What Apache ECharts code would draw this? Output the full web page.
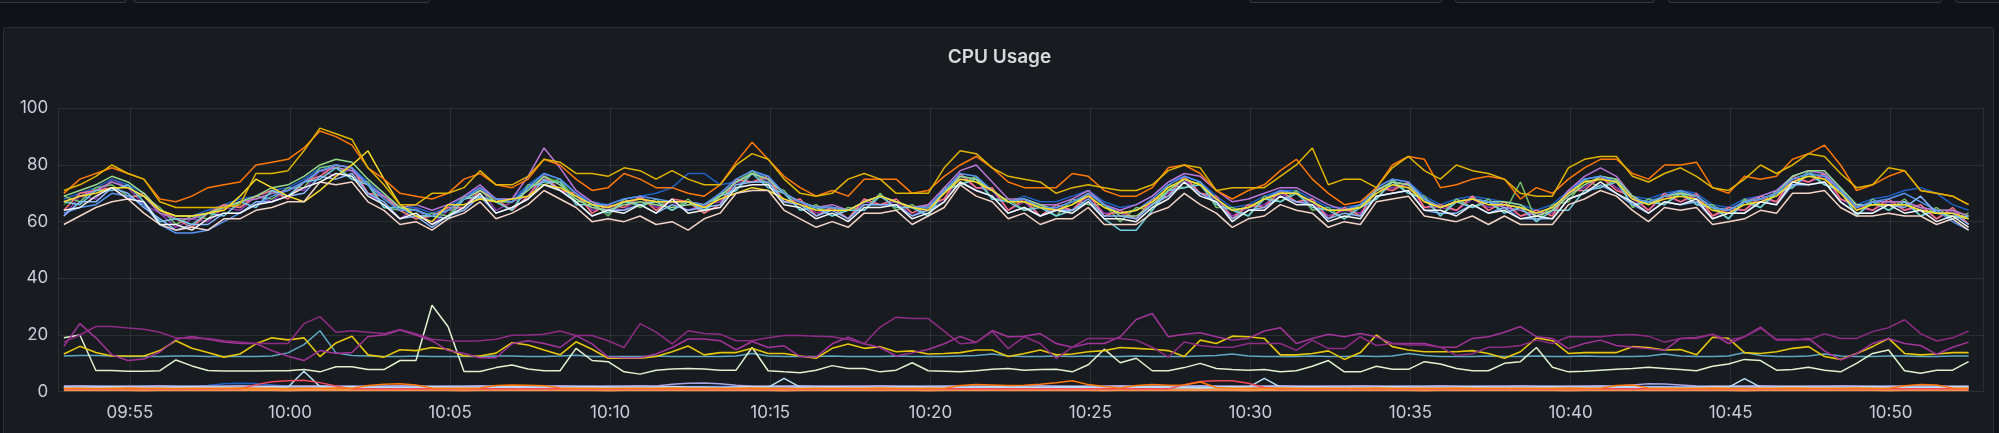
<!DOCTYPE html>
<html><head><meta charset="utf-8">
<script src="https://cdn.jsdelivr.net/npm/echarts@6/dist/echarts.min.js"></script>
<style>
html,body{margin:0;padding:0;background:#111217;overflow:hidden;}
#wrap{position:relative;width:1999px;height:433px;}
.btn{position:absolute;top:-10px;height:11px;border:1px solid #34373d;border-radius:3px;background:#15171b;}
#panel{position:absolute;left:3px;top:27px;width:1989px;height:430px;background:#181b1f;border:1px solid rgba(204,204,220,0.10);border-radius:3px;}
#c{position:absolute;left:0;top:0;width:1999px;height:433px;}
</style>
</head><body>
<div id="wrap">
<div class="btn" style="left:-2px;width:127px"></div>
<div class="btn" style="left:133px;width:295px"></div>
<div class="btn" style="left:1249px;width:191px"></div>
<div class="btn" style="left:1455px;width:198px"></div>
<div class="btn" style="left:1668px;width:272px"></div>
<div class="btn" style="left:1955px;width:60px"></div>
<div id="panel"></div>
<div id="c"></div>
</div>
<script>
// ---- time grid (30 s samples) ----
const START = new Date(2024, 0, 15, 9, 52, 56).getTime();
const STEP_MS = 30000;
const X_MIN = new Date(2024, 0, 15, 9, 52, 45, 600).getTime();
const X_MAX = new Date(2024, 0, 15, 10, 52, 53).getTime();
const Y_TICKS = [0, 20, 40, 60, 80, 100];

// ---- upper band (about 60-90 %) ----
const o1 = [70,75,77,79,77,75,68,67,69,72, 73,74,80,81,82,86,92,90,87,79, 75,70,69,68,70,75,77,73,72,75, 82,80,75,71,72,77,75,72,72,70, 69,73,81,88,82,76,72,69,71,69, 75,75,75,70,71,76,80,83,79,74, 72,72,72,77,76,71,69,69,72,79, 80,77,71,68,71,73,78,82,75,70, 66,67,72,80,83,82,72,73,75,76, 75,68,72,70,75,79,82,82,77,75, 80,80,81,72,70,76,75,76,82,84, 87,80,71,73,76,78,71,70,69,66];
const o2 = [71,73,76,80,77,75,67,65,65,65, 65,66,77,77,78,85,93,91,89,79, 73,66,66,70,70,72,78,73,73,76, 82,81,77,77,76,79,78,75,78,75, 73,73,80,84,82,75,70,69,70,75, 77,75,70,70,70,79,85,84,79,76, 75,74,70,72,73,72,71,71,73,78, 80,79,71,72,72,72,76,80,86,73, 75,75,72,79,83,78,75,80,78,77, 75,70,69,69,79,82,83,83,76,74, 77,79,76,72,71,75,80,77,80,84, 83,77,72,73,79,78,71,70,69,66];
const s1 = [63,65,66,70,69,66,59,56,56,57, 60,63,66,69,71,74,78,80,79,73, 68,64,64,62,64,68,72,68,67,72, 77,75,70,66,66,68,69,68,67,67, 66,70,75,78,76,70,67,65,65,64, 67,69,67,65,65,71,77,76,71,67, 68,65,65,67,70,66,63,64,68,73, 76,74,68,64,65,68,71,70,67,64, 64,66,72,75,74,68,65,67,68,67, 66,65,63,65,70,75,76,74,68,67, 69,71,69,65,64,67,68,70,75,77, 76,71,65,67,68,70,67,64,60,57];
const s2 = [69,67,72,73,69,69,65,59,62,61, 66,65,69,68,72,72,79,80,75,74, 65,64,61,63,62,69,68,67,64,73, 73,75,67,67,62,68,65,68,64,68, 63,70,71,78,73,71,64,66,62,65, 64,70,64,66,62,72,73,76,68,68, 64,66,62,68,66,66,60,65,64,73, 72,74,65,65,62,69,67,71,64,65, 61,66,68,75,70,69,62,68,65,68, 63,74,60,66,67,75,72,75,65,68, 66,71,66,66,61,68,65,71,72,78, 73,72,62,68,64,68,62,65,61,63];
const s3 = [67,69,71,74,72,69,63,61,61,63, 65,67,68,70,71,74,78,79,78,73, 69,65,66,64,66,69,73,68,68,76, 86,79,71,67,65,67,68,67,67,67, 66,69,74,77,75,70,67,65,66,64, 67,69,67,65,66,72,78,80,74,68, 68,66,66,68,71,66,64,66,69,74, 77,76,71,67,68,70,72,72,69,66, 64,65,71,74,73,68,65,67,68,67, 65,64,62,64,71,76,79,76,69,66, 69,70,69,65,64,67,69,71,76,78, 77,71,65,67,67,67,65,64,64,62];
const s4 = [62,67,67,72,70,65,61,57,59,59, 63,63,67,67,69,70,76,75,77,70, 67,61,62,58,62,64,69,63,65,68, 75,71,67,62,64,64,66,63,66,64, 65,66,73,74,74,67,66,62,64,61, 66,66,66,62,64,67,74,71,69,63, 65,62,64,64,68,62,62,61,66,69, 74,70,67,61,64,65,69,67,66,61, 63,62,69,70,71,64,63,63,66,63, 65,61,61,61,68,70,73,70,66,63, 67,66,67,61,63,63,67,66,73,73, 74,67,63,63,66,65,69,63,63,59];
const s5 = [64,70,71,72,68,70,64,61,58,63, 66,65,69,71,68,74,76,80,79,70, 69,64,61,62,65,65,71,68,64,69, 76,71,70,63,66,65,69,64,68,67, 63,66,75,74,76,67,68,62,65,61, 68,66,68,63,66,68,77,72,72,64, 68,62,66,64,70,62,64,61,68,69, 76,70,69,61,66,65,71,67,68,61, 65,62,72,71,74,65,66,64,69,64, 67,62,64,62,71,71,76,71,69,64, 70,67,70,62,65,64,69,67,76,74, 77,68,66,64,68,64,66,61,65,59];
const s6 = [64,65,69,72,68,67,59,59,57,61, 63,63,66,67,69,72,74,77,76,69, 66,61,63,59,62,65,70,63,65,68, 73,71,67,62,64,63,66,63,68,63, 64,65,72,73,73,66,65,61,63,60, 65,65,66,61,63,67,74,71,69,63, 65,62,64,63,67,61,61,60,65,68, 74,69,67,60,64,64,69,66,66,60, 62,61,69,70,71,64,64,62,66,63, 64,61,62,61,68,70,74,70,67,63, 67,66,68,61,63,63,67,66,74,73, 74,67,63,63,66,63,64,60,62,58];
const s7 = [67,66,71,71,73,67,60,61,59,63, 62,67,65,71,69,74,75,79,75,73, 65,65,62,62,61,68,69,67,64,72, 74,74,66,66,63,67,66,67,64,67, 64,69,71,77,72,70,64,65,62,64, 64,69,65,65,62,71,73,75,68,67, 64,65,62,64,67,61,57,57,64,71, 72,73,66,64,62,68,67,70,65,64, 61,65,68,74,70,68,62,67,65,67, 63,65,60,64,64,71,72,74,66,67, 66,70,66,65,61,67,65,70,72,77, 73,71,62,67,64,67,62,64,61,62];
const s8 = [67,69,70,72,72,69,64,62,62,63, 64,69,75,72,69,67,71,76,80,85, 75,66,62,60,66,66,68,67,68,69, 73,72,69,66,65,67,68,67,67,67, 65,68,70,72,71,68,66,64,64,64, 67,69,67,65,64,70,75,74,71,67, 67,65,64,66,69,65,63,64,67,72, 75,73,68,64,65,68,70,70,67,64, 64,65,70,73,72,67,65,67,68,66, 66,65,63,65,70,74,75,74,68,66, 68,69,68,64,63,66,67,69,74,76, 75,70,64,66,66,66,64,63,63,61];
const s9 = [62,69,68,75,72,66,63,58,61,60, 65,64,69,67,72,71,78,76,79,70, 66,61,65,59,64,65,72,64,67,69, 77,71,69,64,65,64,69,65,67,64, 66,67,74,74,75,67,67,63,65,61, 67,66,67,62,65,68,76,72,71,64, 67,62,65,64,69,63,63,61,67,70, 75,70,68,62,65,66,70,67,67,62, 64,63,71,72,73,65,65,64,68,65, 66,62,63,63,70,72,76,72,68,64, 69,67,69,62,64,64,68,67,75,74, 76,68,65,64,67,64,65,61,64,59];
const s10 = [66,69,71,74,72,69,63,61,61,63, 65,67,68,70,71,74,78,79,78,73, 68,64,64,62,64,68,71,67,67,72, 76,74,69,66,65,67,68,67,67,67, 66,69,74,78,75,70,67,65,65,64, 67,69,67,65,65,71,76,75,71,67, 67,65,65,67,69,65,63,64,67,72, 75,73,68,64,65,68,70,70,67,64, 64,65,71,74,73,68,65,67,68,67, 66,65,63,65,70,74,75,74,68,67, 69,70,69,65,64,67,68,70,75,77, 76,71,65,67,67,67,65,64,64,62];
const s11 = [68,70,72,75,73,70,64,62,62,64, 66,68,69,71,72,75,79,80,79,74, 69,65,65,63,65,69,72,68,68,73, 77,75,70,67,66,68,69,70,72,77, 77,73,74,77,76,70,67,65,65,64, 67,69,67,65,65,71,76,75,71,67, 69,67,67,69,71,67,65,66,69,74, 76,74,69,65,66,69,71,71,68,65, 65,66,72,75,74,69,66,68,69,68, 67,66,64,66,71,75,76,75,69,68, 70,71,70,66,65,68,69,71,76,78, 77,72,66,68,69,71,72,70,66,64];
const s12 = [59,62,65,67,68,63,59,57,58,57, 61,61,64,65,67,67,74,73,74,67, 64,59,60,57,61,63,67,61,63,66, 71,68,65,60,61,60,62,59,60,57, 61,63,70,71,71,64,61,58,60,58, 63,63,64,59,62,65,73,69,67,61, 63,59,61,61,65,59,59,59,63,65, 70,66,63,58,61,62,66,64,63,58, 60,59,67,68,69,62,61,60,62,59, 62,59,59,59,66,68,71,69,64,60, 65,64,65,59,60,61,64,63,70,70, 71,65,62,62,63,62,62,59,61,57];
const s13 = [69,71,73,76,74,70,64,62,62,63, 65,67,69,72,73,76,80,82,81,75, 70,65,64,62,64,68,71,67,67,71, 76,73,68,65,64,66,67,66,65,66, 66,69,74,77,75,70,67,65,65,64, 67,69,67,65,65,70,76,75,71,67, 68,66,64,66,70,66,62,62,66,71, 75,73,68,64,65,68,70,70,67,64, 64,65,71,74,73,68,65,67,68,67, 67,66,62,64,69,73,76,75,69,66, 69,70,69,65,64,67,68,70,76,78, 78,72,66,66,66,66,64,63,62,61];

// ---- lower band (about 5-30 %) ----
const magA = [16,24,19,13,11,11.5,14,18.5,19.5,18.5, 17.5,17,17,14.5,12.5,11,14.5,13.5,13.8,19.5, 20,21.8,20,18,14.5,13.5,12,12,16.9,18, 17,15.6,19.8,16.9,12.2,12,12,13.3,15.6,18.6, 18.6,18,14.8,17.7,15.6,16.2,12.4,12.2,16.9,19.2, 16.9,15.6,12.6,13.7,14.9,16.9,19.5,17.4,21.6,19.4, 19.6,20.5,17,15.7,17,17,19.4,25.5,27.6,19.4, 20.3,20.8,19.4,18.2,18.8,21.4,22.6,17,18.8,20.3, 19.4,20.5,19.4,17,17,17,15.7,15.7,18.8,19.4, 21,23,19.4,18.8,15.2,17,18.2,16.3,15.7,15.2, 14.6,18.8,19.1,20.3,17,19.4,22.8,18.2,18.2,18.8, 14.4,11.2,13.4,17,18.8,17,16.3,13.2,15.7,17.5];
const magB = [17.5,20,23,23,22.5,22,21,19,18.8,18.8, 18,17.5,17,17,17,24,26.5,21,21.5,21, 20.5,22,20.5,18.5,18,17.8,18,18.5,19.9,20, 20.3,21.4,19.8,19.8,18,15.6,24,21,16.9,21.5, 20.5,20.3,18,18,19,19.8,19.8,19.6,19.4,18.4, 16.9,22.8,26.3,25.8,25.8,21.4,16.9,17.4,21.3,15.2, 19.4,17,11.7,15.7,18.8,18.8,18.8,18.2,15.7,12.2, 17.5,16.3,15.7,15.7,17,17,17,14.6,18.2,15.2, 15.2,19.4,16.3,17,16.5,16.5,15.7,12.8,13.4,15.7, 15.7,16.3,18.2,17,19.4,19.4,19.4,20,20.2,19.6, 17.5,18.8,18.8,20.3,18.2,19.4,22.4,18.5,18.5,18.2, 20.5,18.8,18.8,21.2,22.6,25.4,20.5,17.9,19,21.4];
const yel = [13.3,16,13.8,12.6,12.6,12.6,14.5,18,15.3,13.8, 12.2,13.3,16.9,19,18.3,19,12.4,17.2,19.6,13, 12.2,14.8,14.5,15.6,15,12.6,12.6,13.6,17.3,16.5, 14.7,13,17.6,15,11.8,11.8,11.8,12.4,14.1,16.1, 13,13.8,13.8,15.3,13.5,13.5,12.6,11.8,15.3,16.8, 15.3,15.9,14.1,14.4,13.3,13.5,13.8,14.7,14.7,12.4, 13.5,14.7,13,13.3,14.1,14.5,15.6,15.3,15,14.5, 12.4,18.2,17,19.6,19.4,18.8,13,13,13.5,14.4, 11.4,13.8,20,15.9,14.7,14.1,14.1,14.1,14.5,13.5, 11.8,14.1,19,18,13.5,13.8,13.8,13.8,15.9,15.6, 14.7,14.9,13,19.2,18.8,13.8,13.5,14.1,15.3,15.9, 12.4,11.4,13.5,15.9,18.8,13.5,13,13.3,13.8,13.8];
const teal = [12.6,12.8,12.8,12.6,12.4,12.4,12.4,12.6,12.6,12.4, 12.4,12.4,12.4,12.6,13.7,16.6,21.5,13.7,12.8,12.6, 12.4,12.4,12.6,12.4,12.4,12.4,12.4,12.6,12.6,12.4, 12.4,12.6,12.9,12.4,12.4,12.4,12.4,12.6,12.4,12.4, 12.4,12.4,12.6,13.5,12.6,12.4,12.4,12.4,12.6,12.4, 12.4,12.4,12.6,12.4,12.4,12.4,12.6,12.8,13.3,12.6, 12.4,12.4,12.6,12.4,12.6,12.4,12.4,12.6,12.4,12.4, 12.4,12.6,12.8,13.3,12.6,12.4,12.4,12.4,12.6,12.4, 12.4,12.6,12.4,12.6,13.5,12.8,12.4,12.4,12.4,12.6, 12.4,12.4,12.6,12.4,12.4,12.6,12.4,12.4,12.4,12.6, 13.3,12.6,12.4,12.4,12.6,13.8,12.8,12.4,12.4,12.6, 13.3,12.6,12.4,12.4,12.6,12.6,12.4,12.4,12.6,12.6];
const pale = [19,20,7.5,7.5,7.2,7.2,7.4,11.2,9.1,7.5, 7.3,7.3,7.3,7.4,7.4,7.8,7,8.8,8.8,7.8, 7.8,11,11,30.5,23,7.1,7.1,8.5,9.4,8, 7.4,7.4,15.3,11,10.6,7,6.2,7.6,8,8.2, 8,7.6,7.6,15.6,7.4,7,6.7,7.6,9.2,8.2, 8.2,7,7.6,10.2,7.4,7.2,7,7.4,7.9,8.2, 7.6,7.8,7.9,7,9.5,15,10.2,11.8,7.4,7.4, 8.5,10,8.2,7.8,7.6,7.8,7,7.4,9,11, 7,7,9,7.9,7.9,10.6,9.8,8.2,7.4,7.4, 10,10.6,15.6,8.6,7,7.2,7.6,7.9,8.2,8.6, 8.2,7.8,7.4,9,9.8,11.4,11,7.6,7.8,8.6, 7.6,7,10,13.5,14.7,7.4,6.5,7.6,7.6,10.6];

// ---- near-zero lines ----
const zOr1 = [0.7,0.7,0.8,0.7,0.7,0.6,0.7,0.7,0.8,0.7, 0.7,0.8,0.7,0.7,0.6,0.7,0.7,0.8,0.7,0.7, 0.7,0.7,0.8,0.7,0.7,0.6,0.7,0.7,0.8,0.7, 0.7,0.8,0.7,0.7,0.6,0.7,0.7,0.8,0.7,0.7, 0.7,0.7,0.8,0.7,0.7,0.6,0.7,0.7,0.8,0.7, 0.7,0.8,0.7,0.7,0.6,0.7,0.7,0.8,0.7,0.7, 0.7,0.7,0.8,0.7,0.7,0.6,0.7,0.7,0.8,0.7, 0.7,0.8,0.7,0.7,0.6,0.7,0.7,0.8,0.7,0.7, 0.7,0.7,0.8,0.7,0.7,0.6,0.7,0.7,0.8,0.7, 0.7,0.8,0.7,0.7,0.6,0.7,0.7,0.8,0.7,0.7, 0.7,0.7,0.8,0.7,0.7,0.6,0.7,0.7,0.8,0.7, 0.7,0.8,0.7,0.7,0.6,0.7,0.7,0.8,0.7,0.7];
const zOr2 = [1.2,1.2,1.1,1.2,1.3,1.2,1.2,1.1,1.2,1.2, 1.2,1.3,1.2,1.2,1.1,1.2,1.2,1.3,1.2,2.2, 2.6,2.8,2.4,1.3,1.2,1.2,1.3,2.2,2.4,2.3, 2.1,1.3,1.2,1.2,1.1,1.2,1.2,1.2,1.3,1.2, 1.2,1.2,1.2,1.3,1.2,1.2,1.1,1.2,1.2,1.2, 1.2,1.3,1.2,1.2,1.2,1.2,2.2,2.5,2.4,2.2, 2.3,2.6,3.2,3.9,2.5,1.8,1.3,2.2,2.5,2.3, 2.4,3.4,1.5,1.2,1.2,1.2,1.3,1.2,1.2,1.2, 1.2,1.2,1.3,1.2,1.2,1.2,1.2,1.3,1.2,1.2, 1.2,1.2,1.2,1.2,1.3,1.2,1.2,2.2,2.4,1.3, 1.2,1.2,1.2,1.3,1.2,1.2,1.2,1.2,1.3,1.2, 1.2,1.2,1.3,1.2,1.2,2.1,2.5,2.4,1.3,1.2];
const zRed = [1,1,1,1,1,1,1,1,1,1, 1,1,2.5,3.5,3.9,4,3.2,2,1,1, 1,1,1,1,1,1,1,1,1,1, 1,1,1,1,1,1,1,1,1,1, 1,1,1,1,1,1,1,1,1,1, 1,1,1,1,1,1,1,1,1,1, 1,1,1,1,1,1,1,1,1,1, 2.5,3.6,3.9,3.9,3,1.5,1,1,1,1, 1,1,1,1,1,1,1,1,1,1, 1,1,1,1,1,1,1,1,1,1, 1,1,1,1,1,1,1,1,1,1, 1,1,1,1,1,1,1,1,1,1];
const zLB = [1.7,1.6,1.7,1.8,1.7,1.7,1.6,1.7,1.8,1.7, 1.7,1.6,1.7,1.8,1.7,1.7,1.6,1.7,1.8,1.7, 1.7,1.6,1.7,1.8,1.7,1.7,1.6,1.7,1.8,1.7, 1.7,1.6,1.7,1.8,1.7,1.7,1.6,1.7,1.8,1.7, 1.7,1.6,1.7,1.8,1.7,1.7,1.6,1.7,1.8,1.7, 1.7,1.6,1.7,1.8,1.7,1.7,1.6,1.7,1.8,1.7, 1.7,1.6,1.7,1.8,1.7,1.7,1.6,1.7,1.8,1.7, 1.7,1.6,1.7,1.8,1.7,1.7,1.6,1.7,1.8,1.7, 1.7,1.6,1.7,1.8,1.7,1.7,1.6,1.7,1.8,1.7, 1.7,1.6,1.7,1.8,1.7,1.7,1.6,1.7,1.8,1.7, 1.7,1.6,1.7,1.8,1.7,1.7,1.6,1.7,1.8,1.7, 1.7,1.6,1.7,1.8,1.7,1.7,1.6,1.7,1.8,1.7];
const zPur = [2,2.1,2,1.9,2,2,2.1,2,1.9,2, 2,2.1,2,1.9,2,2,2.1,2,1.9,2, 2,2.1,2,1.9,2,2,2.1,2,1.9,2, 2,2.1,2,1.9,2,2,2.1,2,2.6,3, 3.1,2.8,2.3,1.9,2,2,2.1,2,1.9,2, 2,2.1,2,1.9,2,2,2.1,2,1.9,2, 2,2.1,2,1.9,2,2,2.1,2,1.9,2, 2,2.1,2,1.9,2,2,2.1,2,1.9,2, 2,2.1,2,1.9,2,2,2.1,2,1.9,2, 2,2.1,2,1.9,2,2,2.1,2,2.4,2.8, 2.7,2.4,2,1.9,2,2,2.1,2,1.9,2, 2,2.1,2,1.9,2,2,2.1,2,1.9,2];
const zSpike = [1.4,1.4,1.4,1.4,1.4,1.4,1.4,1.4,1.4,1.4, 1.4,1.4,1.4,1.4,1.6,7.2,1.8,1.4,1.4,1.4, 1.4,1.4,1.4,1.4,1.4,1.4,1.4,1.4,1.4,1.4, 1.4,1.4,1.4,1.4,1.4,1.4,1.4,1.4,1.4,1.4, 1.4,1.4,1.4,1.4,1.5,4.7,1.6,1.4,1.4,1.4, 1.4,1.4,1.4,1.4,1.4,1.4,1.4,1.4,1.4,1.4, 1.4,1.4,1.4,1.4,1.4,1.4,1.4,1.4,1.4,1.4, 1.4,1.4,1.4,1.4,1.5,4.7,1.6,1.4,1.4,1.4, 1.4,1.4,1.4,1.4,1.4,1.4,1.4,1.4,1.4,1.4, 1.4,1.4,1.4,1.4,1.4,1.4,1.4,1.4,1.4,1.4, 1.4,1.4,1.4,1.4,1.5,4.6,1.6,1.4,1.4,1.4, 1.4,1.4,1.4,1.4,1.4,1.4,1.4,1.4,1.4,1.4];
const zDB = [1.8,1.8,1.9,1.8,1.8,1.8,1.9,1.8,1.8,2.2, 2.8,3,2.9,2.4,1.9,1.8,1.8,1.8,1.9,1.8, 1.8,1.8,1.9,1.8,1.8,1.8,1.9,1.8,1.8,1.8, 1.8,1.8,1.9,1.8,1.8,1.8,1.9,1.8,1.8,1.8, 1.8,1.8,1.9,1.8,1.8,1.8,1.9,1.8,1.8,1.8, 1.8,1.8,1.9,1.8,1.8,1.8,1.9,1.8,1.8,1.8, 1.8,1.8,1.9,1.8,1.8,1.8,1.9,1.8,1.8,1.8, 1.8,1.8,1.9,1.8,1.8,1.8,1.9,1.8,1.8,1.8, 1.8,1.8,1.9,1.8,1.8,1.8,1.9,1.8,1.8,1.8, 1.8,1.8,1.9,1.8,1.8,1.8,1.9,1.8,1.8,1.8, 1.8,1.8,1.9,1.8,1.8,1.8,1.9,1.8,1.8,1.8, 1.8,1.8,1.9,1.8,1.8,1.8,1.9,1.8,1.8,1.8];

// draw order: first = bottom
const SERIES = [
  ['z-or1', zOr1, '#F9934E', 3],
  ['z-db', zDB, '#1F60C4', 1.5],
  ['z-pur', zPur, '#AEA2E0', 1.5],
  ['z-lb', zLB, '#C0D8FF', 1.5],
  ['z-spike', zSpike, '#BADFF4', 1.5],
  ['z-red', zRed, '#F2495C', 1.5],
  ['z-or2', zOr2, '#FF780A', 1.5],
  ['teal', teal, '#5FA9C4', 1.5],
  ['pale', pale, '#E0F2D0', 1.5],
  ['yellow', yel, '#E5C60E', 1.6],
  ['magenta-a', magA, '#A3359A', 1.5],
  ['magenta-b', magB, '#8E2C86', 1.5],
  ['s9', s9, '#8F3BB8', 1.5],
  ['s10', s10, '#37872D', 1.5],
  ['s11', s11, '#1F60C4', 1.5],
  ['s2', s2, '#73BF69', 1.5],
  ['s5', s5, '#FF7383', 1.5],
  ['s3', s3, '#B877D9', 1.5],
  ['s7', s7, '#6ED0E0', 1.5],
  ['s13', s13, '#96D98D', 1.5],
  ['s1', s1, '#5794F2', 1.5],
  ['s4', s4, '#8AB8FF', 1.5],
  ['s8', s8, '#FADE2A', 1.5],
  ['o1', o1, '#FF780A', 1.5],
  ['o2', o2, '#E0B400', 1.5],
  ['s12', s12, '#F2D4C8', 1.5],
  ['s6', s6, '#F4F5F5', 1.5]
];

const times = zOr1.map((_, i) => START + i * STEP_MS);

const chart = echarts.init(document.getElementById('c'), null, {renderer: 'canvas'});
const FONT = 'Inter, Roboto, "Noto Sans", sans-serif';
chart.setOption({
  backgroundColor: 'transparent',
  animation: false,
  title: {
    text: 'CPU Usage', left: 'center', top: 43,
    textStyle: {color: '#d8d9da', fontSize: 19, fontWeight: 600, fontFamily: FONT}
  },
  grid: {left: 58.3, right: 16, top: 108.3, bottom: 41.3, containLabel: false, outerBoundsMode: 'none'},
  xAxis: {
    type: 'time', min: X_MIN, max: X_MAX, splitNumber: 10,
    axisLine: {show: false}, axisTick: {show: false},
    axisLabel: {formatter: '{HH}:{mm}', color: '#ccccdc', fontSize: 17, fontFamily: FONT, margin: 13,
                showMinLabel: false, showMaxLabel: false},
    splitLine: {show: true, lineStyle: {color: 'rgba(240,250,255,0.09)', width: 1}}
  },
  yAxis: {
    type: 'value', min: Y_TICKS[0], max: Y_TICKS[Y_TICKS.length - 1], interval: Y_TICKS[1] - Y_TICKS[0],
    axisLine: {show: false}, axisTick: {show: false},
    axisLabel: {color: '#ccccdc', fontSize: 17, fontFamily: FONT, margin: 10},
    splitLine: {show: true, lineStyle: {color: 'rgba(240,250,255,0.09)', width: 1}}
  },
  series: SERIES.map(([name, arr, color, w]) => ({
    name, type: 'line', showSymbol: false, symbol: 'none', silent: true,
    lineStyle: {color, width: w}, itemStyle: {color},
    emphasis: {disabled: true},
    data: arr.map((v, i) => [times[i], v])
  }))
});
</script>
</body></html>
